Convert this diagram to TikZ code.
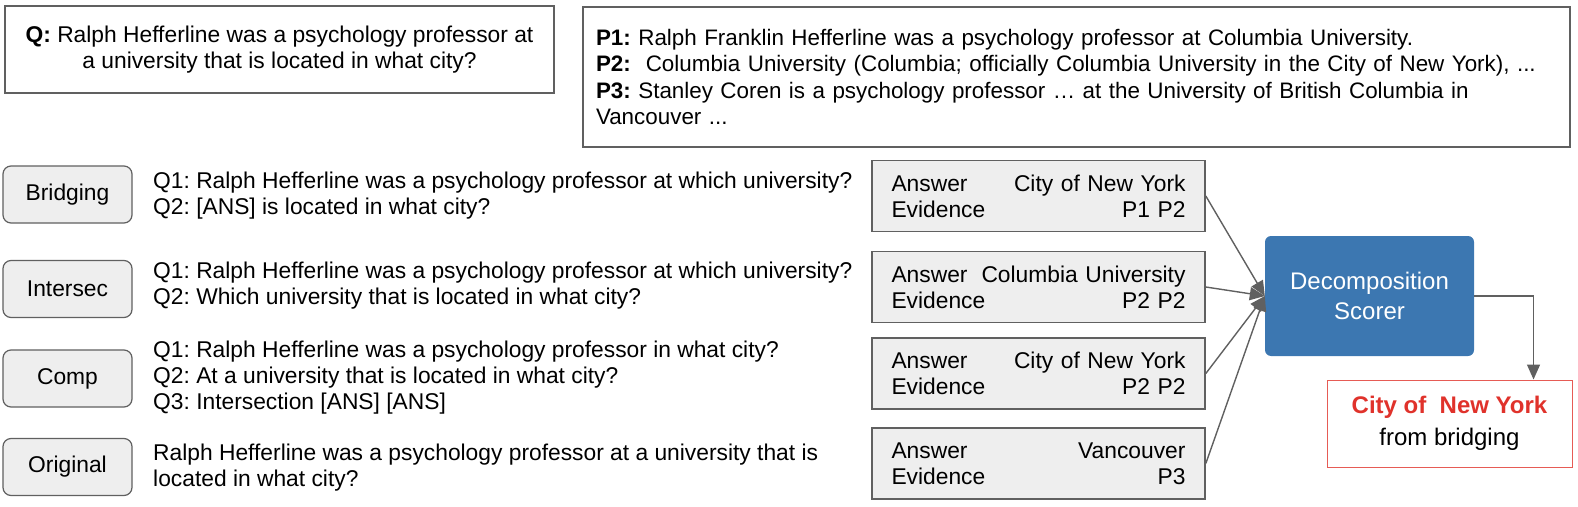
\documentclass[tikz,border=0pt]{standalone}
\usepackage{fontspec}
\setmainfont{Liberation Sans}
\usetikzlibrary{arrows.meta,positioning}
\definecolor{boxgray}{HTML}{EEEEEE}
\definecolor{linegray}{HTML}{606060}
\definecolor{scorerblue}{HTML}{3C77B1}
\definecolor{answerred}{HTML}{E0322B}
\frenchspacing
\begin{document}
\begin{tikzpicture}[x=1pt,y=-1pt,
  every node/.style={font=\fontsize{22.8}{26}\selectfont},
  textbox/.style={draw=linegray,line width=1.2pt,fill=white},
  method/.style={draw=linegray,line width=1.2pt,rounded corners=8pt,fill=boxgray,
    minimum width=129pt,minimum height=57pt},
  subq/.style={anchor=west,inner sep=0pt,align=left},
  answer/.style={draw=linegray,line width=1.6pt,fill=boxgray,minimum width=333pt,
    minimum height=71pt,text width=294pt,align=left,inner sep=0pt},
  scorer/.style={fill=scorerblue,rounded corners=6pt,text=white,minimum width=209pt,
    minimum height=120pt,align=center,font=\fontsize{24}{30}\selectfont},
  result/.style={draw=answerred!80,line width=1pt,fill=white,minimum width=245pt,
    minimum height=87pt,align=center,font=\fontsize{24}{32}\selectfont},
  flow/.style={-{Triangle[length=15pt,width=13pt]},draw=linegray,line width=1.4pt}]

\useasboundingbox (0,0) rectangle (1578,506);

% Question and supporting paragraphs
\node[textbox,minimum width=549pt,minimum height=87pt,align=center] (question) at (279.5,49.5)
  {\textbf{Q:} Ralph Hefferline was a psychology professor at\\a university that is located in what city?};
\node[textbox,minimum width=987pt,minimum height=140pt,text width=961pt,align=left,inner xsep=13pt,
  font=\fontsize{22.4}{26.5}\selectfont] (paragraphs) at (1076.5,77)
  {\textbf{P1:} Ralph Franklin Hefferline was a psychology professor at Columbia University.\\
   \textbf{P2:}\ \ Columbia University (Columbia; officially Columbia University in the City of New York), ...\\
   \textbf{P3:} Stanley Coren is a psychology professor … at the University of British Columbia in\\
   Vancouver ...};

% Decomposition types
\node[method] (bridging) at (67.5,194.5) {Bridging};
\node[method] (intersec) at (67.5,289) {Intersec};
\node[method] (comp) at (67.5,378.5) {Comp};
\node[method] (original) at (67.5,467) {Original};

% Sub-questions of each decomposition
\node[subq] (bridgingQ) at (153,196) {Q1: Ralph Hefferline was a psychology professor at which university?\\
  Q2: [ANS] is located in what city?};
\node[subq] (intersecQ) at (153,285.5) {Q1: Ralph Hefferline was a psychology professor at which university?\\
  Q2: Which university that is located in what city?};
\node[subq] (compQ) at (153,378) {Q1: Ralph Hefferline was a psychology professor in what city?\\
  Q2: At a university that is located in what city?\\
  Q3: Intersection [ANS] [ANS]};
\node[subq] (originalQ) at (153,468) {Ralph Hefferline was a psychology professor at a university that is\\
  located in what city?};

% Answers with evidence
\node[answer] (bridgingA) at (1038.5,196) {Answer\hfill City of New York\\Evidence\hfill P1 P2};
\node[answer] (intersecA) at (1038.5,287) {Answer\hfill Columbia University\\Evidence\hfill P2 P2};
\node[answer] (compA) at (1038.5,373.5) {Answer\hfill City of New York\\Evidence\hfill P2 P2};
\node[answer] (originalA) at (1038.5,463.5) {Answer\hfill Vancouver\\Evidence\hfill P3};

% Scorer and final answer
\node[scorer] (scorer) at (1369.5,296) {Decomposition\\Scorer};
\node[result] (result) at (1449.5,423.5) {\textcolor{answerred}{\textbf{City of\ \ New York}}\\from bridging};

% Arrows
\draw[flow] (bridgingA.east) -- (scorer.west);
\draw[flow] (intersecA.east) -- (scorer.west);
\draw[flow] (compA.east) -- (scorer.west);
\draw[flow] (originalA.east) -- (scorer.west);
\draw[flow] (scorer.east) -| ([xshift=-39pt]result.north east);
\end{tikzpicture}
\end{document}
